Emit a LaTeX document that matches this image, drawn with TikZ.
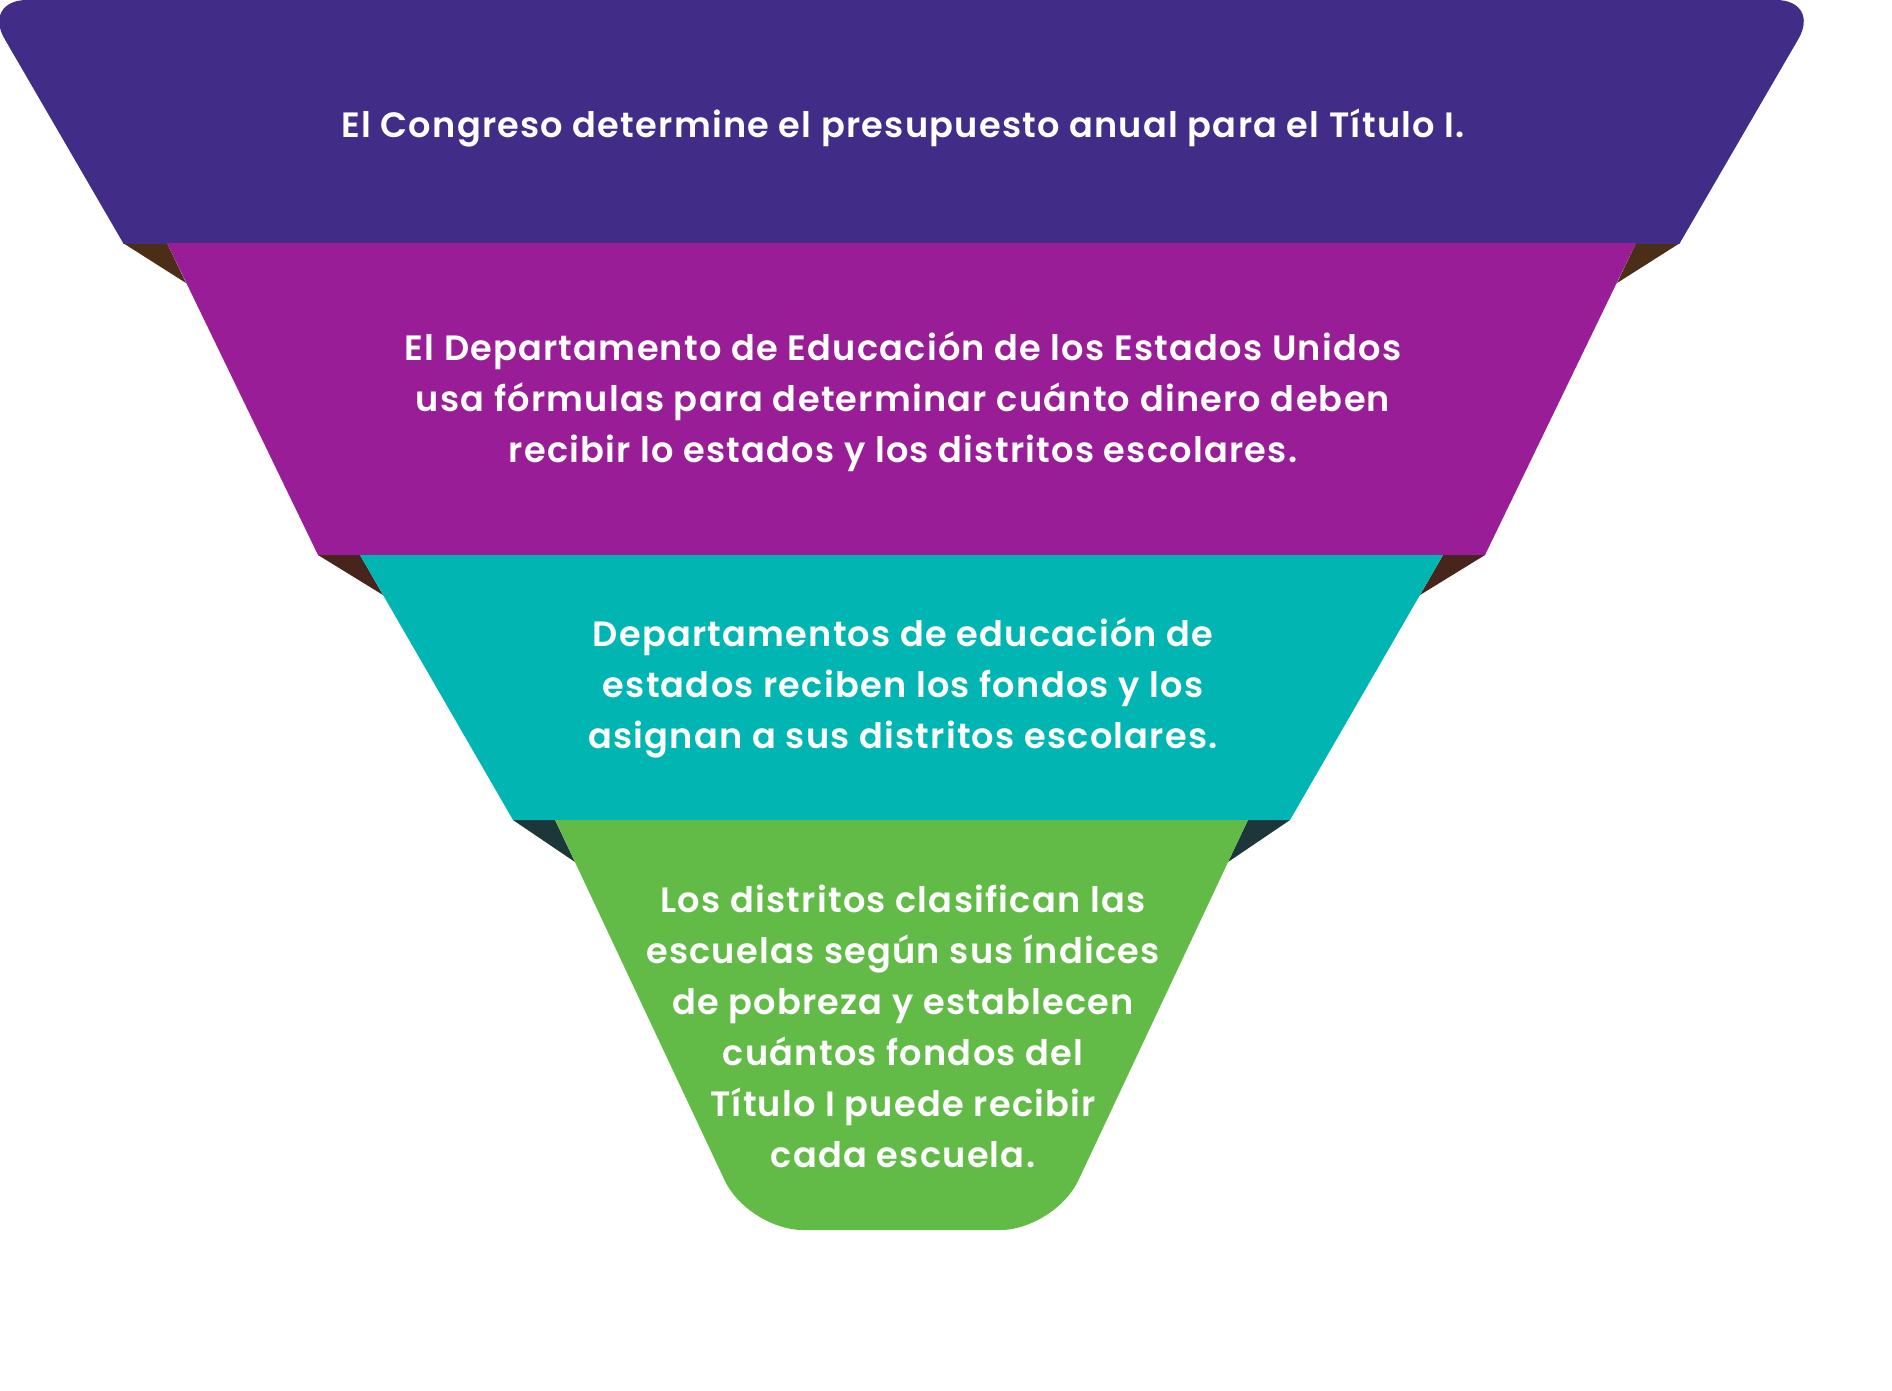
\documentclass[tikz,border=0pt]{standalone}
\usepackage{fontspec}
\setmainfont{Poppins SemiBold}[LetterSpace=3.5]
\usetikzlibrary{calc}
\definecolor{bandone}{HTML}{412C87}
\definecolor{bandtwo}{HTML}{981D96}
\definecolor{bandthree}{HTML}{00B5B2}
\definecolor{bandfour}{HTML}{62BB47}
\definecolor{foldone}{HTML}{4A2E17}
\definecolor{foldtwo}{HTML}{47251C}
\definecolor{foldthree}{HTML}{1D363A}

\begin{document}
\begin{tikzpicture}[x=0.01cm,y=-0.01cm]
		\tikzstyle{label}=[text=white,align=center,font=\fontsize{10}{14.5}\selectfont]
		\def\midx{903}

		%page
		\useasboundingbox (0,0) rectangle (1892,1390);

		%folds
		\fill[foldone] (123,243) -- (167,243) -- (186,283) -- cycle;
		\fill[foldone] (1680,243) -- (1636,243) -- (1617,283) -- cycle;
		\fill[foldtwo] (318,555) -- (360,555) -- (383,595) -- cycle;
		\fill[foldtwo] (1485,555) -- (1443,555) -- (1420,595) -- cycle;
		\fill[foldthree] (513,820) -- (555,820) -- (575,862) -- cycle;
		\fill[foldthree] (1290,820) -- (1248,820) -- (1228,862) -- cycle;

		%band one
		\begin{scope}
			\clip (-50,-50) rectangle (1950,243);
			\fill[bandone,rounded corners=0.45cm] (-18,0) -- (1821,0) -- (1645,303) -- (158,303) -- cycle;
		\end{scope}
		%band two
		\fill[bandtwo] (167,243) -- (1636,243) -- (1485,555) -- (318,555) -- cycle;
		%band three
		\fill[bandthree] (360,555) -- (1443,555) -- (1290,820) -- (513,820) -- cycle;
		%band four
		\begin{scope}
			\clip (-50,820) rectangle (1950,1300);
			\fill[bandfour,rounded corners=0.55cm] (527,760) -- (1276,760) -- (1055,1230) -- (748,1230) -- cycle;
		\end{scope}

		%texts
		\node[label] (congreso) at (\midx,128) {El Congreso determine el presupuesto anual para el Título I.};
		\node[label] (departamento) at (\midx,402) {El Departamento de Educación de los Estados Unidos\\usa fórmulas para determinar cuánto dinero deben\\recibir lo estados y los distritos escolares.};
		\node[label] (estados) at (\midx,688) {Departamentos de educación de\\estados reciben los fondos y los\\asignan a sus distritos escolares.};
		\node[label] (distritos) at (\midx,1026) {Los distritos clasifican las\\escuelas según sus índices\\de pobreza y establecen\\cuántos fondos del\\Título I puede recibir\\cada escuela.};
	\end{tikzpicture}
\end{document}
